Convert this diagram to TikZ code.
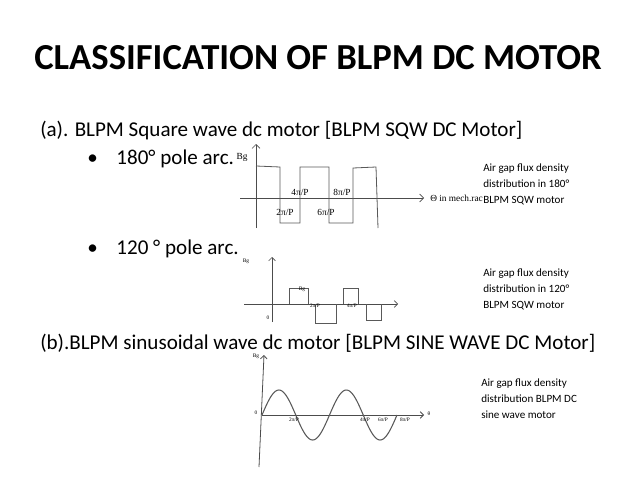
\documentclass[tikz,border=0pt]{standalone}
\usepackage{fontspec}
\setmainfont{Carlito}
\newfontfamily\tms{Liberation Serif}
\usetikzlibrary{arrows.meta}
\begin{document}
\begin{tikzpicture}[x=0.75pt,y=-0.75pt,
  ax/.style={draw=black!70,line width=0.5pt},
  wav/.style={draw=black!65,line width=0.6pt},
  lbl/.style={font=\tms\fontsize{7}{8}\selectfont,inner sep=0pt},
  sl/.style={font=\tms\fontsize{4}{5}\selectfont,inner sep=0pt},
  body/.style={font=\fontsize{15.8}{20}\selectfont,anchor=west,inner sep=0pt},
  note/.style={font=\fontsize{8.3}{12}\selectfont,anchor=north west,align=left,inner sep=0pt}]
\useasboundingbox (0,0) rectangle (638,478);
\node[font=\bfseries\fontsize{27.5}{32}\selectfont,inner sep=0pt] (title) at (318,58) {CLASSIFICATION OF BLPM DC MOTOR};
\node[body] (a) at (40,130) {(a). BLPM Square wave dc motor [BLPM SQW DC Motor]};
\node[body] (b1) at (87,159) {•\hspace{14pt}180° pole arc.};
\node[body] (b2) at (87,249) {•\hspace{14pt}120 ° pole arc.};
\node[body] (b) at (40,343) {(b).BLPM sinusoidal wave dc motor [BLPM SINE WAVE DC Motor]};
% graph 1
\draw[ax,-{Straight Barb[length=3pt]}] (256,228) -- (256,144);
\draw[ax,-{Straight Barb[length=3pt]}] (240,198) -- (424,198);
\draw[wav] (256,166) -- (280,167) -- (280,223) -- (300,223) -- (300,167) -- (329,167) -- (329,223) -- (353,223) -- (353,168) -- (376,167) -- (378,228);
\node[lbl] (bg1) at (242,157) {Bg};
\node[lbl] at (300,192) {4π/P};
\node[lbl] at (342,192) {8π/P};
\node[lbl] at (285,212) {2π/P};
\node[lbl] at (326,212) {6π/P};
\node[lbl,anchor=west] at (430,198) {Θ in mech.rac};
\node[note] at (483,164) {Air gap flux density\\distribution in 180°\\BLPM SQW motor};
% graph 2
\draw[ax,-{Straight Barb[length=2.5pt]}] (272,322) -- (272,257);
\draw[ax,-{Straight Barb[length=2.5pt]}] (244,304) -- (398,304);
\draw[wav,line width=0.4pt] (289,304) -- (289,288) -- (308,288) -- (308,304)
  (315,304) -- (315,323) -- (336,323) -- (336,304)
  (343,304) -- (343,288) -- (358,288) -- (358,304)
  (366,304) -- (366,320) -- (381,320) -- (381,304);
\node[sl] at (246,261) {Bg};
\node[sl] at (302,289) {Bg};
\node[sl] at (315,306) {2π/P};
\node[sl] at (352,306) {4π/P};
\node[sl] at (268,318) {0};
\node[note] at (483,269) {Air gap flux density\\distribution in 120°\\BLPM SQW motor};
% graph 3
\draw[ax,line width=0.6pt,-{Straight Barb[length=2.5pt]}] (259,467) -- (264,355);
\draw[ax,line width=0.6pt,-{Straight Barb[length=2.5pt]}] (262,415) -- (424,415);
\draw[wav,line width=0.8pt,domain=0:135,samples=120] plot ({262+\x},{415-25*sin(\x/67.5*360)});
\node[sl] at (256,356) {Bg};
\node[sl] at (256,413) {0};
\node[sl] at (294,420) {2π/P};
\node[sl] at (365,420) {4π/P};
\node[sl] at (383,420) {6π/P};
\node[sl] at (405,420) {8π/P};
\node[sl] at (429,414) {θ};
\node[note] at (481,379) {Air gap flux density\\distribution BLPM DC\\sine wave motor};
\end{tikzpicture}
\end{document}
